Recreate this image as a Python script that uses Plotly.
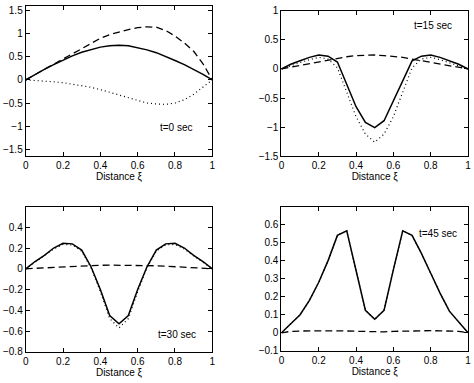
import plotly.graph_objects as go
from plotly.subplots import make_subplots

x = [0, 0.05, 0.1, 0.15, 0.2, 0.25, 0.3, 0.35, 0.4, 0.45, 0.5,
     0.55, 0.6, 0.65, 0.7, 0.75, 0.8, 0.85, 0.9, 0.95, 1.0]

# t = 0 sec
t0_solid = [0, 0.12, 0.23, 0.33, 0.43, 0.52, 0.6, 0.66, 0.71, 0.74, 0.75,
            0.74, 0.7, 0.65, 0.59, 0.51, 0.42, 0.33, 0.23, 0.12, 0]
t0_dash = [0, 0.12, 0.23, 0.34, 0.45, 0.56, 0.68, 0.79, 0.9, 0.98, 1.04,
           1.09, 1.13, 1.15, 1.14, 1.07, 0.95, 0.8, 0.62, 0.35, 0]
t0_dot = [0, -0.01, -0.02, -0.04, -0.06, -0.09, -0.12, -0.16, -0.21, -0.27, -0.33,
          -0.39, -0.45, -0.5, -0.52, -0.53, -0.5, -0.43, -0.31, -0.16, 0]

# t = 15 sec
t15_solid = [0, 0.08, 0.14, 0.2, 0.24, 0.22, 0.12, -0.25, -0.65, -0.92, -1.01,
             -0.89, -0.55, -0.2, 0.14, 0.22, 0.24, 0.2, 0.14, 0.08, 0]
t15_dash = [0, 0.03, 0.06, 0.09, 0.12, 0.16, 0.19, 0.21, 0.23, 0.24, 0.24,
            0.23, 0.22, 0.2, 0.17, 0.14, 0.11, 0.09, 0.06, 0.03, 0]
t15_dot = [0, 0.06, 0.11, 0.16, 0.2, 0.17, 0.02, -0.4, -0.82, -1.12, -1.26,
           -1.12, -0.82, -0.4, 0.02, 0.17, 0.2, 0.16, 0.11, 0.06, 0]

# t = 30 sec
t30_solid = [0, 0.07, 0.13, 0.2, 0.245, 0.24, 0.18, 0.02, -0.2, -0.45, -0.53,
             -0.45, -0.2, 0.02, 0.18, 0.24, 0.245, 0.2, 0.13, 0.07, 0]
t30_dash = [0, 0.005, 0.01, 0.015, 0.02, 0.025, 0.029, 0.032, 0.034, 0.035, 0.035,
            0.035, 0.034, 0.032, 0.029, 0.025, 0.02, 0.015, 0.01, 0.005, 0]
t30_dot = [0, 0.065, 0.125, 0.19, 0.235, 0.23, 0.17, 0.01, -0.22, -0.48, -0.57,
           -0.48, -0.22, 0.01, 0.17, 0.23, 0.235, 0.19, 0.125, 0.065, 0]

# t = 45 sec
t45_solid = [0, 0.05, 0.1, 0.18, 0.28, 0.4, 0.54, 0.565, 0.35, 0.125, 0.075,
             0.125, 0.35, 0.565, 0.54, 0.44, 0.33, 0.22, 0.12, 0.06, 0]
t45_dash = [0, 0.008, 0.01, 0.011, 0.012, 0.012, 0.011, 0.01, 0.008, 0.005, 0.003,
            0.005, 0.008, 0.01, 0.011, 0.012, 0.012, 0.011, 0.01, 0.008, 0]
t45_dot = t45_solid

labels = ["t=0 sec", "t=15 sec", "t=30 sec", "t=45 sec"]
label_x = [0.81, 0.81, 0.81, 0.84]
label_y = [-1.03, 0.75, -0.63, 0.55]

y_ranges = [[-1.65, 1.6], [-1.5, 1.0], [-0.8, 0.6], [-0.1, 0.7]]
y_ticks = [[-1.5, -1, -0.5, 0, 0.5, 1, 1.5],
           [-1.5, -1, -0.5, 0, 0.5, 1],
           [-0.8, -0.6, -0.4, -0.2, 0, 0.2, 0.4],
           [-0.1, 0, 0.1, 0.2, 0.3, 0.4, 0.5, 0.6]]
x_ticks = [0, 0.2, 0.4, 0.6, 0.8, 1]

panels = [(t0_solid, t0_dash, t0_dot), (t15_solid, t15_dash, t15_dot),
          (t30_solid, t30_dash, t30_dot), (t45_solid, t45_dash, t45_dot)]

W, H = 474, 383
xdom = [[23 / W, 212 / W], [282 / W, 471 / W], [23 / W, 212 / W], [282 / W, 471 / W]]
ydom = [[1 - 155 / H, 1.0], [1 - 155 / H, 1 - 5 / H],
        [1 - 357 / H, 1 - 207 / H], [1 - 356 / H, 1 - 207 / H]]

fig = make_subplots(rows=2, cols=2)
pos = [(1, 1), (1, 2), (2, 1), (2, 2)]
font = dict(family="Liberation Sans, Arial, sans-serif", size=10, color="black")

for i, (s, d, o) in enumerate(panels):
    r, c = pos[i]
    fig.add_trace(go.Scatter(x=x, y=o, mode="lines",
                             line=dict(color="black", width=1.2, dash="1px,3px")), row=r, col=c)
    fig.add_trace(go.Scatter(x=x, y=d, mode="lines",
                             line=dict(color="black", width=1.3, dash="7px,4px")), row=r, col=c)
    fig.add_trace(go.Scatter(x=x, y=s, mode="lines",
                             line=dict(color="black", width=1.5)), row=r, col=c)
    fig.add_annotation(x=label_x[i], y=label_y[i], text=labels[i], showarrow=False,
                       font=font, xref=f"x{'' if i == 0 else i + 1}",
                       yref=f"y{'' if i == 0 else i + 1}")
    fig.update_xaxes(row=r, col=c, range=[0, 1], tickvals=x_ticks,
                     ticktext=["0", "0.2", "0.4", "0.6", "0.8", "1"],
                     domain=xdom[i], showgrid=False, zeroline=False,
                     showline=True, mirror="ticks", linecolor="black", linewidth=1,
                     ticks="inside", ticklen=4, tickcolor="black", tickfont=font,
                     title=dict(text="Distance ξ", font=font, standoff=2))
    fig.update_yaxes(row=r, col=c, range=y_ranges[i], tickvals=y_ticks[i],
                     domain=ydom[i], showgrid=False, zeroline=False,
                     showline=True, mirror="ticks", linecolor="black", linewidth=1,
                     ticks="inside", ticklen=4, tickcolor="black", tickfont=font)

fig.update_layout(width=W, height=H, margin=dict(l=0, r=0, t=0, b=0),
                  paper_bgcolor="white", plot_bgcolor="white", showlegend=False)
fig.write_html("out.html", config={"displayModeBar": False},
               post_script="document.body.style.margin='0';document.body.style.overflow='hidden';")
